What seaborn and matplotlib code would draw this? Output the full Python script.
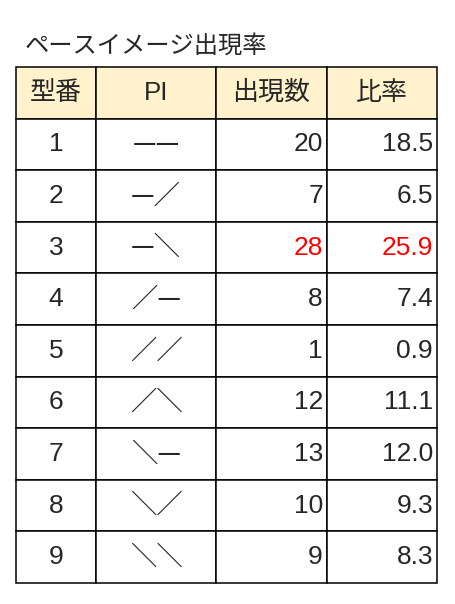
import matplotlib
matplotlib.use("Agg")
import matplotlib.pyplot as plt
import seaborn as sns

title = "ペースイメージ出現率"
headers = ["型番", "PI", "出現数", "比率"]
type_no = ["1", "2", "3", "4", "5", "6", "7", "8", "9"]
pace_image = ["——", "—／", "—＼", "／—", "／／", "／＼", "＼—", "＼／", "＼＼"]
counts = [20, 7, 28, 8, 1, 12, 13, 10, 9]
ratios = [18.5, 6.5, 25.9, 7.4, 0.9, 11.1, 12.0, 9.3, 8.3]
highlight = "3"

sns.set_theme(style="white")
plt.rcParams['font.family'] = ['Liberation Sans', 'Noto Sans CJK JP', 'DejaVu Sans']

W, H = 456, 604
fig = plt.figure(figsize=(W / 100, H / 100), dpi=100)
ax = fig.add_axes([0, 0, 1, 1])
ax.set_axis_off()

cells = [[n, p, str(c), f"{r:.1f}"] for n, p, c, r in zip(type_no, pace_image, counts, ratios)]
col_px = [80, 120, 111, 110]
left, top, bottom = 16, 67, 583
tw = sum(col_px)

tbl = ax.table(cellText=cells, colLabels=headers,
               colWidths=[c / tw for c in col_px],
               bbox=[left / W, 1 - bottom / H, tw / W, (bottom - top) / H])
tbl.auto_set_font_size(False)

for (r, c), cell in tbl.get_celld().items():
    cell.set_edgecolor("black")
    cell.set_linewidth(1.1)
    txt = cell.get_text()
    txt.set_fontsize(19)
    if r == 0:
        cell.set_facecolor("#FFF2CC")
        cell._loc = "center"
        txt.set_horizontalalignment("center")
        txt.set_fontsize(18.7)
    else:
        cell.set_facecolor("white")
        if c >= 2:
            cell._loc = "right"
            cell.PAD = 4 / col_px[c]
            txt.set_horizontalalignment("right")
        else:
            cell._loc = "center"
            txt.set_horizontalalignment("center")
        if c == 1:
            txt.set_family(['Noto Sans CJK JP'])
            txt.set_fontsize(19)
        if cells[r - 1][0] == highlight and c >= 2:
            txt.set_color("#FF0000")

ax.text(25 / W, 1 - 46 / H, title, transform=ax.transAxes, fontsize=17.5,
        ha="left", va="center", family=['Noto Sans CJK JP'])

fig.savefig("out.png", dpi=100)
